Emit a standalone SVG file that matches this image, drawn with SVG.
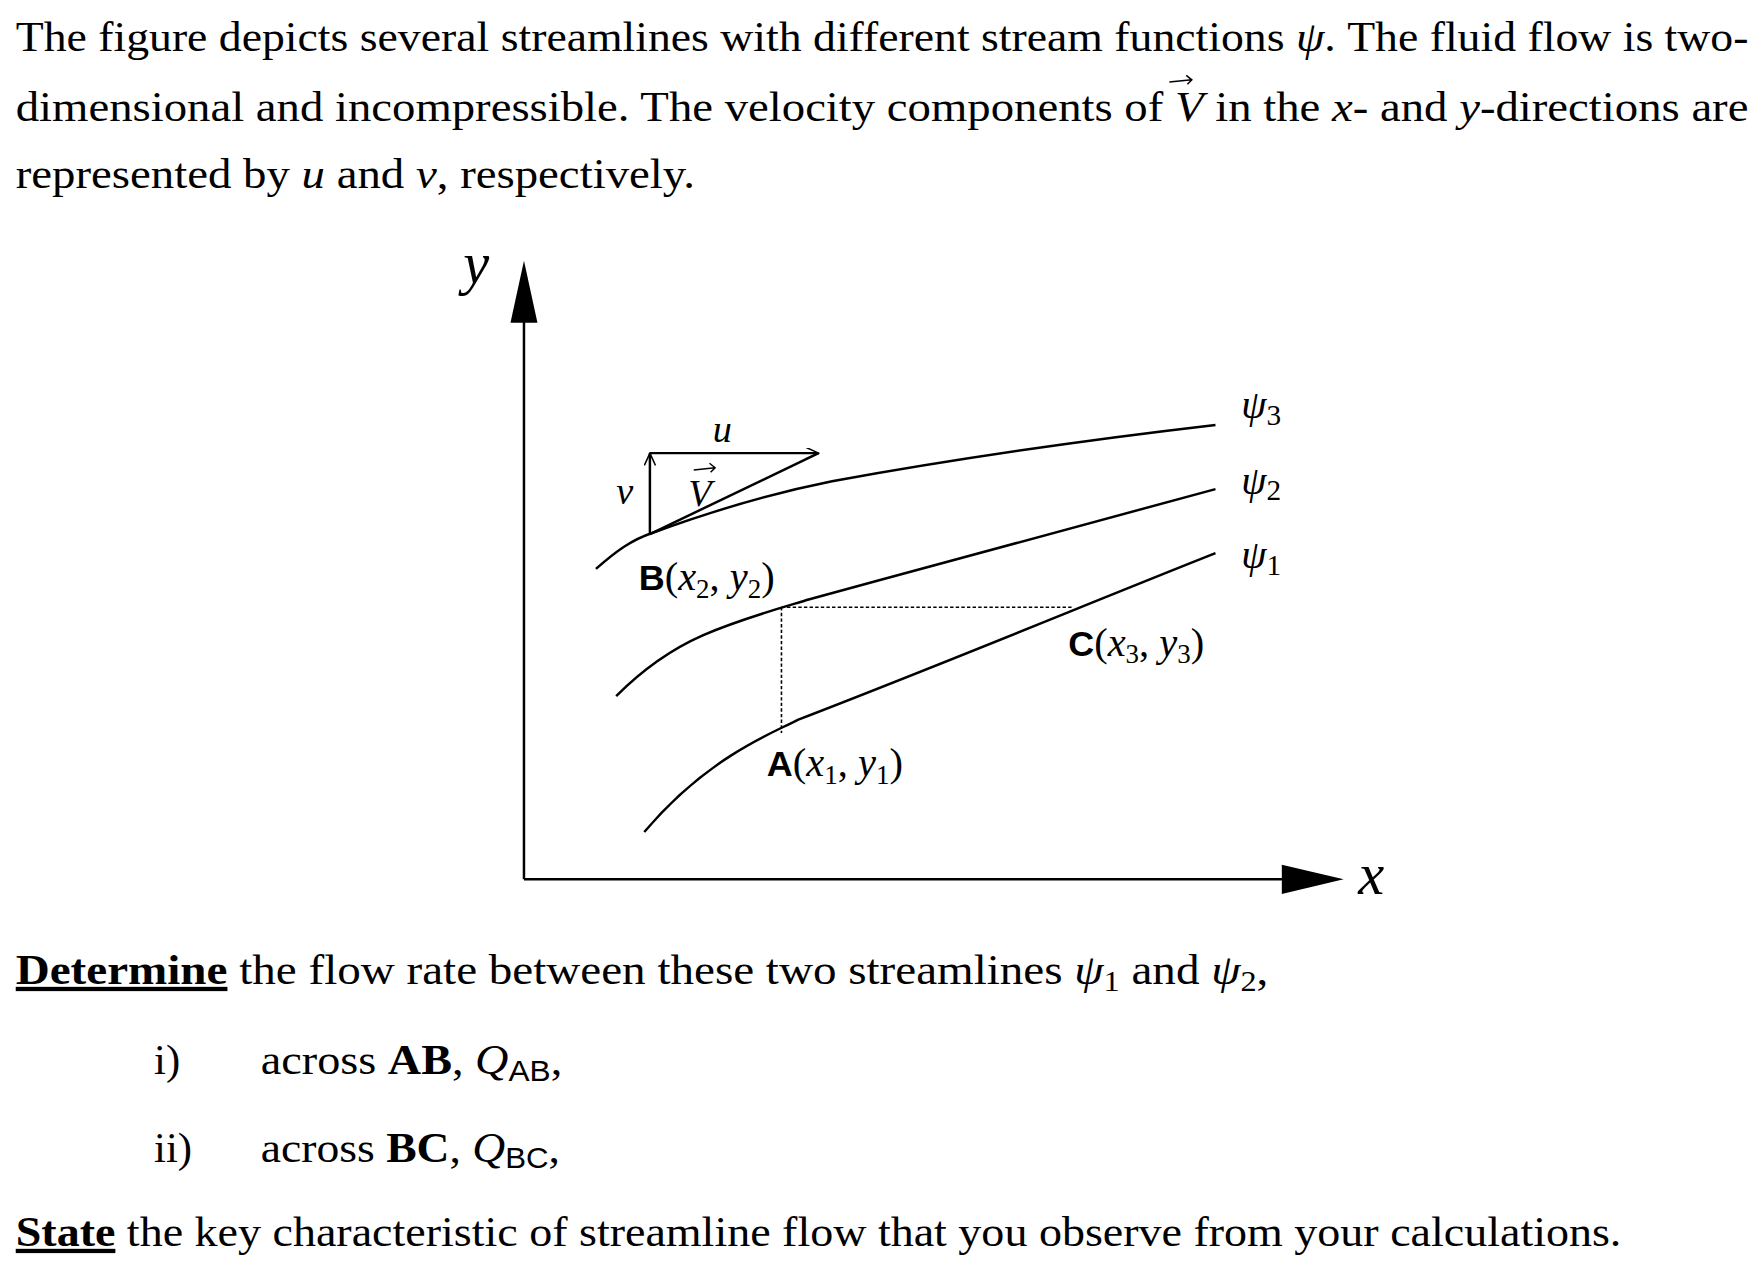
<svg xmlns="http://www.w3.org/2000/svg" width="1754" height="1266" viewBox="0 0 1754 1266">
<style>
.t{font-family:"Liberation Serif",serif;font-size:38px;fill:#000}
.r{font-family:"Liberation Serif",serif;font-style:normal;fill:#000}
.m{font-family:"Liberation Serif",serif;font-style:italic;fill:#000}
.b{font-family:"Liberation Sans",sans-serif;font-weight:bold;fill:#000}
.s{font-size:24px}
.ln{fill:none;stroke:#000;stroke-width:2.2}
.vec{fill:none;stroke:#000;stroke-width:1.3}
.dot{fill:none;stroke:#000;stroke-width:1.4;stroke-dasharray:3 2}
</style>
<defs>
<marker id="open" viewBox="0 0 12 10" refX="11" refY="5" markerWidth="12" markerHeight="10" markerUnits="userSpaceOnUse" orient="auto"><path d="M0,0 L11,5 L0,10" fill="none" stroke="#000" stroke-width="1.4"/></marker>
</defs>
<rect width="1754" height="1266" fill="#fff"/>
<g transform="scale(1.1244)">
<g id="intro">
<text class="t" x="14" y="45" textLength="1541" lengthAdjust="spacingAndGlyphs">The figure depicts several streamlines with different stream functions <tspan font-style="italic">ψ</tspan>. The fluid flow is two-</text>
<text class="t" x="14" y="108" textLength="1541" lengthAdjust="spacingAndGlyphs">dimensional and incompressible. The velocity components of <tspan font-style="italic">V</tspan> in the <tspan font-style="italic">x</tspan>- and <tspan font-style="italic">y</tspan>-directions are</text>
<text class="t" x="14" y="167" textLength="604" lengthAdjust="spacingAndGlyphs">represented by <tspan font-style="italic">u</tspan> and <tspan font-style="italic">v</tspan>, respectively.</text>
<path class="vec" d="M1040,73 L1060,71 M1055,67 L1060,71 L1056,75"/>
</g>
<g id="axes">
<line class="ln" x1="466" y1="782" x2="466" y2="285"/>
<polygon points="454,287 478,287 466,232"/>
<line class="ln" x1="466" y1="782" x2="1142" y2="782"/>
<polygon points="1140,769 1140,795 1195,782"/>
<text class="m" x="412" y="252" font-size="52">y</text>
<text class="m" x="1208" y="795" font-size="52">x</text>
</g>
<g id="streamlines">
<path class="ln" d="M530,506 C548,490 562,480 580,474 C640,452 690,438 740,428 C850,408 960,392 1081,378"/>
<path class="ln" d="M548,619 C575,592 600,576 625,565 C660,550 690,542 720,533 C840,500 960,468 1081,435"/>
<path class="ln" d="M573,740 C600,708 625,688 650,672 C675,656 690,650 710,640 C840,590 960,540 1081,492"/>
</g>
<g id="connectors">
<line class="dot" x1="695" y1="540" x2="955" y2="540"/>
<line class="dot" x1="695" y1="540" x2="695" y2="652"/>
<line class="ln" x1="578" y1="475" x2="578" y2="403" stroke-width="1.6" marker-end="url(#open)"/>
<line class="ln" x1="578" y1="403" x2="728" y2="403" stroke-width="1.6" marker-end="url(#open)"/>
<line class="ln" x1="578" y1="475" x2="728" y2="403" stroke-width="1.6"/>
</g>
<g id="labels">
<text class="m" x="634" y="393" font-size="34">u</text>
<text class="m" x="548" y="448" font-size="34">v</text>
<text class="m" x="612" y="450" font-size="34">V</text>
<path class="vec" d="M617,418 L636,416 M631,412 L636,416 L632,420"/>
<text x="568" y="525" font-size="36"><tspan class="b" font-size="32">B</tspan><tspan class="r">(</tspan><tspan class="m">x</tspan><tspan class="r s" dy="7">2</tspan><tspan class="r" dy="-7">, </tspan><tspan class="m">y</tspan><tspan class="r s" dy="7">2</tspan><tspan class="r" dy="-7">)</tspan></text>
<text x="950" y="583" font-size="36"><tspan class="b" font-size="32">C</tspan><tspan class="r">(</tspan><tspan class="m">x</tspan><tspan class="r s" dy="7">3</tspan><tspan class="r" dy="-7">, </tspan><tspan class="m">y</tspan><tspan class="r s" dy="7">3</tspan><tspan class="r" dy="-7">)</tspan></text>
<text x="682" y="690" font-size="36"><tspan class="b" font-size="32">A</tspan><tspan class="r">(</tspan><tspan class="m">x</tspan><tspan class="r s" dy="7">1</tspan><tspan class="r" dy="-7">, </tspan><tspan class="m">y</tspan><tspan class="r s" dy="7">1</tspan><tspan class="r" dy="-7">)</tspan></text>
<text class="m" x="1104" y="372" font-size="36">ψ<tspan font-size="26" font-style="normal" dy="6">3</tspan></text>
<text class="m" x="1104" y="439" font-size="36">ψ<tspan font-size="26" font-style="normal" dy="6">2</tspan></text>
<text class="m" x="1104" y="505" font-size="36">ψ<tspan font-size="26" font-style="normal" dy="6">1</tspan></text>
</g>
<g id="questions">
<text class="t" x="14" y="875" textLength="1114" lengthAdjust="spacingAndGlyphs"><tspan font-weight="bold" text-decoration="underline">Determine</tspan> the flow rate between these two streamlines <tspan font-style="italic">ψ</tspan><tspan font-size="26" dy="6">1</tspan><tspan dy="-6"> and  </tspan><tspan font-style="italic">ψ</tspan><tspan font-size="26" dy="6">2</tspan><tspan dy="-6">,</tspan></text>
<text class="t" x="137" y="955">i)</text>
<text class="t" x="232" y="955" textLength="268" lengthAdjust="spacingAndGlyphs">across <tspan font-weight="bold">AB</tspan>, <tspan font-style="italic">Q</tspan><tspan font-family="Liberation Sans" font-size="26" dy="6">AB</tspan><tspan dy="-6">,</tspan></text>
<text class="t" x="137" y="1033">ii)</text>
<text class="t" x="232" y="1033" textLength="266" lengthAdjust="spacingAndGlyphs">across <tspan font-weight="bold">BC</tspan>, <tspan font-style="italic">Q</tspan><tspan font-family="Liberation Sans" font-size="26" dy="6">BC</tspan><tspan dy="-6">,</tspan></text>
<text class="t" x="14" y="1108" textLength="1428" lengthAdjust="spacingAndGlyphs"><tspan font-weight="bold" text-decoration="underline">State</tspan> the key characteristic of streamline flow that you observe from your calculations.</text>
</g>
</g>
</svg>
